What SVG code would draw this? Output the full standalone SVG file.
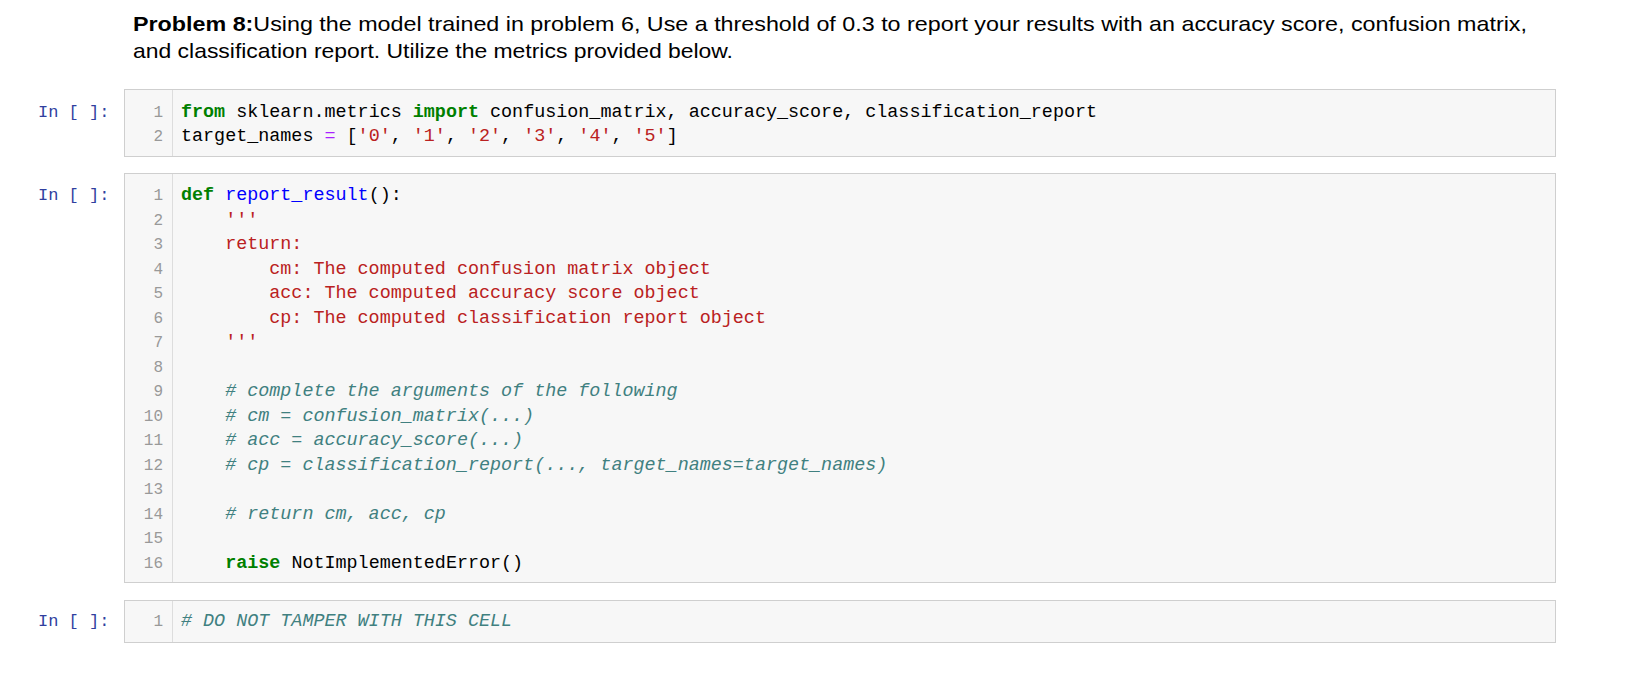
<svg xmlns="http://www.w3.org/2000/svg" width="1636" height="696" viewBox="0 0 1636 696">
<style>
.t{font-family:"Liberation Sans",Arial,sans-serif;font-size:21px;fill:#000}
.p{font-family:"Liberation Mono",monospace;font-size:17px;fill:#303F9F}
.c{font-family:"Liberation Mono",monospace;font-size:18.4px;fill:#000;white-space:pre}
.n{font-family:"Liberation Mono",monospace;font-size:16px;fill:#999;text-anchor:end}
.k{fill:#008000;font-weight:bold}
.s{fill:#BA2121}
.f{fill:#0000FF}
.o{fill:#AA22FF}
.m{fill:#408080;font-style:italic}
.box{fill:#f7f7f7;stroke:#cfcfcf;stroke-width:1}
.g{stroke:#ddd;stroke-width:1}
</style>
<rect width="1636" height="696" fill="#fff"/>
<g id="title">
<text class="t" x="133" y="31" textLength="1394" lengthAdjust="spacingAndGlyphs"><tspan font-weight="bold">Problem 8:</tspan>Using the model trained in problem 6, Use a threshold of 0.3 to report your results with an accuracy score, confusion matrix,</text>
<text class="t" x="133" y="58" textLength="600" lengthAdjust="spacingAndGlyphs">and classification report. Utilize the metrics provided below.</text>
</g>
<g id="cell1">
<text class="p" x="38" y="117">In [ ]:</text>
<rect class="box" x="124.500" y="89.500" width="1431" height="67"/>
<line class="g" x1="172.500" y1="90" x2="172.500" y2="156"/>
<text class="n" x="163" y="117">1</text><text class="n" x="163" y="141">2</text>
<text class="c" x="181" y="117" xml:space="preserve"><tspan class="k">from</tspan> sklearn.metrics <tspan class="k">import</tspan> confusion_matrix, accuracy_score, classification_report</text>
<text class="c" x="181" y="141" xml:space="preserve">target_names <tspan class="o">=</tspan> [<tspan class="s">'0'</tspan>, <tspan class="s">'1'</tspan>, <tspan class="s">'2'</tspan>, <tspan class="s">'3'</tspan>, <tspan class="s">'4'</tspan>, <tspan class="s">'5'</tspan>]</text>
</g>
<g id="cell2">
<text class="p" x="38" y="200">In [ ]:</text>
<rect class="box" x="124.500" y="173.500" width="1431" height="409"/>
<line class="g" x1="172.500" y1="174" x2="172.500" y2="582"/>
<g>
<text class="n" x="163" y="200">1</text><text class="n" x="163" y="224.500">2</text><text class="n" x="163" y="249">3</text><text class="n" x="163" y="273.500">4</text>
<text class="n" x="163" y="298">5</text><text class="n" x="163" y="322.500">6</text><text class="n" x="163" y="347">7</text><text class="n" x="163" y="371.500">8</text>
<text class="n" x="163" y="396">9</text><text class="n" x="163" y="420.500">10</text><text class="n" x="163" y="445">11</text><text class="n" x="163" y="469.500">12</text>
<text class="n" x="163" y="494">13</text><text class="n" x="163" y="518.500">14</text><text class="n" x="163" y="543">15</text><text class="n" x="163" y="567.500">16</text>
</g>
<text class="c" x="181" y="200" xml:space="preserve"><tspan class="k">def</tspan> <tspan class="f">report_result</tspan>():</text>
<text class="c s" x="181" y="224.500" xml:space="preserve">    '''</text>
<text class="c s" x="181" y="249" xml:space="preserve">    return:</text>
<text class="c s" x="181" y="273.500" xml:space="preserve">        cm: The computed confusion matrix object</text>
<text class="c s" x="181" y="298" xml:space="preserve">        acc: The computed accuracy score object</text>
<text class="c s" x="181" y="322.500" xml:space="preserve">        cp: The computed classification report object</text>
<text class="c s" x="181" y="347" xml:space="preserve">    '''</text>
<text class="c m" x="181" y="396" xml:space="preserve">    # complete the arguments of the following</text>
<text class="c m" x="181" y="420.500" xml:space="preserve">    # cm = confusion_matrix(...)</text>
<text class="c m" x="181" y="445" xml:space="preserve">    # acc = accuracy_score(...)</text>
<text class="c m" x="181" y="469.500" xml:space="preserve">    # cp = classification_report(..., target_names=target_names)</text>
<text class="c m" x="181" y="518.500" xml:space="preserve">    # return cm, acc, cp</text>
<text class="c" x="181" y="567.500" xml:space="preserve">    <tspan class="k">raise</tspan> NotImplementedError()</text>
</g>
<g id="cell3">
<text class="p" x="38" y="626">In [ ]:</text>
<rect class="box" x="124.500" y="600.500" width="1431" height="42"/>
<line class="g" x1="172.500" y1="601" x2="172.500" y2="642"/>
<text class="n" x="163" y="626">1</text>
<text class="c m" x="181" y="626" xml:space="preserve"># DO NOT TAMPER WITH THIS CELL</text>
</g>
<g id="connectors"/>
</svg>
